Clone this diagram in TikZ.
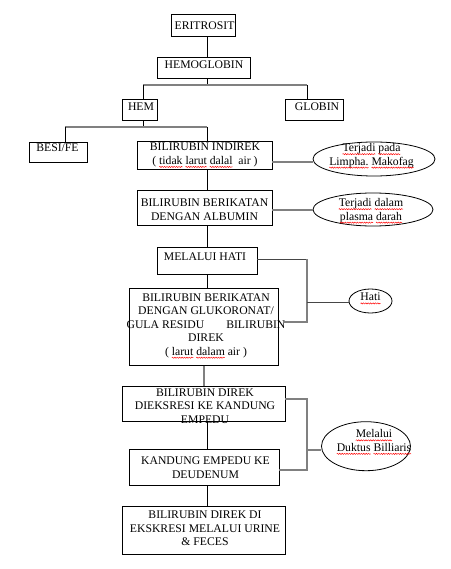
\documentclass[tikz,border=0pt]{standalone}
\usepackage{fontspec}
\setmainfont{Liberation Serif}
\usetikzlibrary{shapes.geometric,decorations.pathmorphing}
\newlength\sqlen
\newcommand\sq[1]{\begingroup\setbox0=\hbox{#1}\global\sqlen=\wd0\rlap{\box0}\tikz[baseline=0pt]{\useasboundingbox (0pt,0pt) rectangle (\sqlen,0pt);\draw[red,line width=0.45pt,decorate,decoration={zigzag,amplitude=0.6pt,segment length=2.4pt}] (0pt,-2.6pt) -- (\sqlen,-2.6pt);}\endgroup}
\definecolor{lgry}{RGB}{128,128,128}
\definecolor{dgry}{RGB}{70,70,70}
\tikzset{
  boxx/.style={draw=black, line width=0.8pt, rectangle, inner sep=0pt},
  ell/.style={draw=black, line width=0.8pt, ellipse, inner sep=0pt},
  txt/.style={inner sep=0pt, align=center, font=\fontsize{11.7}{13.5}\selectfont},
  blk/.style={draw=black, line width=0.8pt},
  gry/.style={draw=lgry, line width=1.6pt},
  dgr/.style={draw=dgry, line width=1pt},
}
\begin{document}
\begin{tikzpicture}[x=1pt,y=-1pt]
\useasboundingbox (0,0) rectangle (450,569);
% boxes
\node[boxx, minimum width=64pt, minimum height=22pt] (eri) at (203,25) {};
\node[boxx, minimum width=93pt, minimum height=21pt] (hb) at (203.5,67.5) {};
\node[boxx, minimum width=35pt, minimum height=21pt] (hem) at (139.5,109.5) {};
\node[boxx, minimum width=58pt, minimum height=21pt] (gl) at (314,109.5) {};
\node[boxx, minimum width=58pt, minimum height=20pt] (besi) at (58,152) {};
\node[boxx, minimum width=135pt, minimum height=28pt] (bi) at (204.5,155) {};
\node[boxx, minimum width=135pt, minimum height=35pt] (al) at (204.5,207.5) {};
\node[boxx, minimum width=100pt, minimum height=27pt] (mh) at (207,260.5) {};
\node[boxx, minimum width=149pt, minimum height=77pt] (b4) at (203.5,327) {};
\node[boxx, minimum width=163pt, minimum height=35pt] (b5) at (203.5,403.5) {};
\node[boxx, minimum width=150pt, minimum height=36pt] (b6) at (204,467) {};
\node[boxx, minimum width=163pt, minimum height=48pt] (b7) at (203.5,530) {};
% ellipses
\node[ell, minimum width=122pt, minimum height=34pt] (e1) at (374,159) {};
\node[ell, minimum width=120pt, minimum height=33pt] (e2) at (373,209.5) {};
\node[ell, minimum width=43pt, minimum height=24pt] (hati) at (370.5,301) {};
\node[ell, minimum width=89pt, minimum height=49pt] (de) at (366,446.2) {};
% texts
\node[txt] (teri) at (204.5,25.3) {ERITROSIT};
\node[txt] (thb) at (204,65) {HEMOGLOBIN};
\node[txt] (them) at (141,107) {HEM};
\node[txt] (tgl) at (317,107) {GLOBIN};
\node[txt] (tbesi) at (57.5,147.5) {BESI/FE};
\node[txt] (tbi) at (205,155) {BILIRUBIN INDIREK\\( \sq{tidak} \sq{larut} \sq{dalal}\ \ air )};
\node[txt] (tal) at (204.5,209.5) {BILIRUBIN BERIKATAN\\DENGAN ALBUMIN};
\node[txt] (tmh) at (205,256.5) {MELALUI HATI};
\node[txt] (tb4) at (206,325.5) {BILIRUBIN BERIKATAN\\DENGAN GLUKORONAT/\\GULA RESIDU\hspace*{22pt}BILIRUBIN\\DIREK\\( \sq{larut} \sq{dalam} air )};
\node[txt] (tb5) at (205,406) {BILIRUBIN DIREK\\DIEKSRESI KE KANDUNG\\EMPEDU};
\node[txt] (tb6) at (205.5,467.5) {KANDUNG EMPEDU KE\\DEUDENUM};
\node[txt] (tb7) at (205,528.5) {BILIRUBIN DIREK DI\\EKSKRESI MELALUI URINE\\\&\ FECES};
\node[txt] (te1) at (371.5,155.5) {\sq{Terjadi} \sq{pada}\\\sq{Limpha.} \sq{Makofag}};
\node[txt] (te2) at (371,210.5) {\sq{Terjadi} \sq{dalam}\\\sq{plasma} \sq{darah}};
\node[txt] (thati) at (370.5,297) {\sq{Hati}};
\node[txt] (tde) at (374,440.5) {\sq{Melalui}\\\sq{Duktus} \sq{Billiaris}};
% coordinates
\coordinate (tr) at (207,0);
\coordinate (tr2) at (204,0);
\coordinate (j1l) at (143,85);
\coordinate (j1r) at (307,85);
\coordinate (j2) at (143,127);
\coordinate (j2l) at (65,127);
\coordinate (j2r) at (207,127);
\coordinate (k1) at (307,259);
\coordinate (k2) at (307,322);
\coordinate (k3) at (283,322);
\coordinate (km) at (307,302);
\coordinate (m1) at (307,399);
\coordinate (m2) at (307,470);
\coordinate (mm) at (307,450);
% connectors
\draw[blk] (eri.south -| tr) -- (hb.north -| tr);
\draw[blk] (hb.south -| tr) -- (tr |- j1l);
\draw[gry] (j1l) -- (j1r);
\draw[blk] (j1l) -- (j1l |- hem.north);
\draw[blk] (j1r) -- (j1r |- gl.north);
\draw[blk] (j2 |- hem.south) -- (j2);
\draw[gry] (j2l) -- (j2r);
\draw[blk] (j2l) -- (j2l |- besi.north);
\draw[blk] (j2r) -- (j2r |- bi.north);
\draw[gry] ([yshift=-7pt]bi.east) -- ([yshift=-7pt]bi.east -| e1.west);
\draw[blk] (bi.south -| tr) -- (al.north -| tr);
\draw[gry] ([yshift=-2.5pt]al.east) -- ([yshift=-2.5pt]al.east -| e2.west);
\draw[blk] (al.south -| tr) -- (mh.north -| tr);
\draw[dgr] (mh.east |- k1) -- (k1);
\draw[gry] (k1) -- (k2) -- (k3);
\draw[dgr] (km) -- (km -| hati.west);
\draw[blk] (mh.south -| tr) -- (b4.north -| tr);
\draw[gry] (b4.south -| tr2) -- (b5.north -| tr2);
\draw[gry] (b5.east |- m1) -- (m1) -- (m2) -- (m2 -| b6.east);
\draw[gry] (mm) -- (mm -| de.west);
\draw[blk] (b5.south -| tr) -- (b6.north -| tr);
\draw[blk] (b6.south -| tr) -- (b7.north -| tr);
\end{tikzpicture}
\end{document}
